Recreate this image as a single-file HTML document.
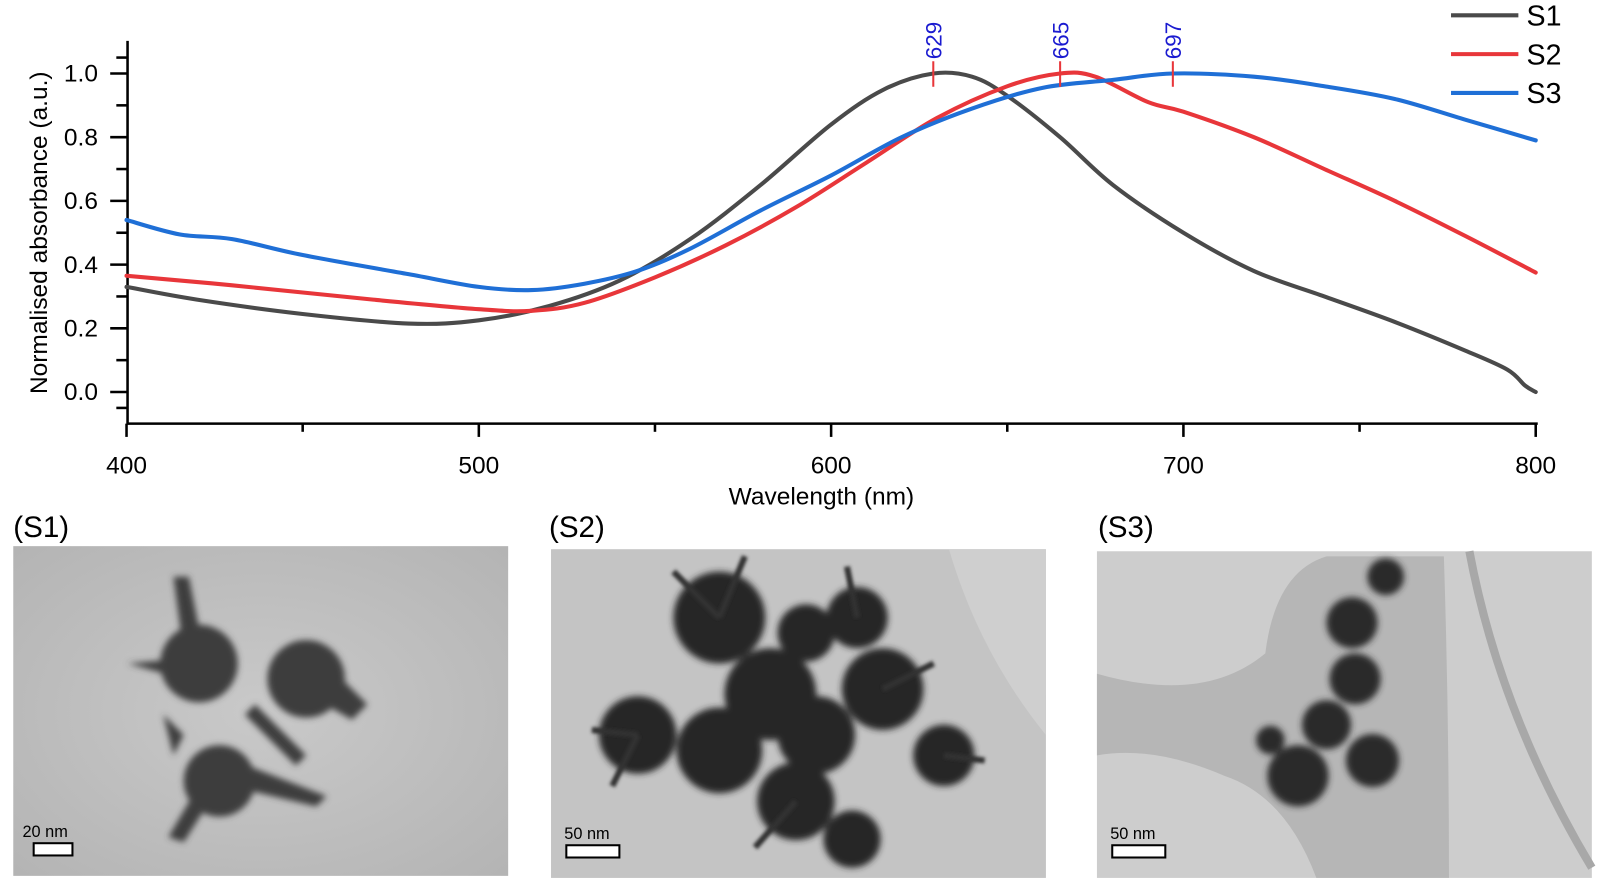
<!DOCTYPE html>
<html><head><meta charset="utf-8"><style>
body{margin:0;background:#fff;width:1600px;height:882px;overflow:hidden;font-family:"Liberation Sans",Arial,sans-serif}
</style></head><body>
<svg id="s" width="1600" height="882" viewBox="0 0 1568 864" preserveAspectRatio="none" xmlns="http://www.w3.org/2000/svg" font-family="Liberation Sans, Arial, sans-serif">
<defs>
<filter id="b1"><feGaussianBlur stdDeviation="3"/></filter>
<filter id="b2"><feGaussianBlur stdDeviation="1.5"/></filter>
<radialGradient id="g1" cx="0.5" cy="0.5" r="0.7"><stop offset="0" stop-color="#c9c9c9"/><stop offset="1" stop-color="#b4b4b4"/></radialGradient>
</defs>
<g id="axes" stroke="#000" stroke-width="2.5" fill="none">
<line x1="125" y1="40" x2="125" y2="416"/>
<line x1="124" y1="415" x2="1507" y2="415"/>
</g>
<g id="ticks" stroke="#000" stroke-width="2.5"></g>
<g font-size="24" fill="#000" id="labels"></g>
<text x="46" y="228" font-size="24" transform="rotate(-90 46 228)" text-anchor="middle">Normalised absorbance (a.u.)</text>
<text x="805" y="494" font-size="24" text-anchor="middle">Wavelength (nm)</text>
<g id="curves" fill="none" stroke-width="4" stroke-linejoin="round" stroke-linecap="round"></g>
<g id="peaks"></g>
<g stroke-width="4">
<line x1="1422" y1="15" x2="1488" y2="15" stroke="#4a4a4a"/>
<line x1="1422" y1="53" x2="1488" y2="53" stroke="#e8363a"/>
<line x1="1422" y1="91" x2="1488" y2="91" stroke="#1f6fd6"/>
</g>
<g font-size="28" fill="#000"><text x="1496" y="25">S1</text><text x="1496" y="63">S2</text><text x="1496" y="101">S3</text></g>

<g font-size="29" fill="#000"><text x="13" y="526">(S1)</text><text x="538" y="526">(S2)</text><text x="1076" y="526">(S3)</text></g>
<!-- TEM 1 -->
<rect x="13" y="535" width="485" height="323" fill="url(#g1)"/>
<g fill="#3e3e3e" filter="url(#b1)">
<circle cx="195" cy="650" r="38"/><circle cx="300" cy="665" r="38"/><circle cx="215" cy="765" r="35"/>
<polygon points="170,565 185,565 200,640 180,640"/><polygon points="125,650 180,645 180,665"/>
<polygon points="230,745 320,780 310,790 225,770"/><polygon points="165,820 200,760 215,770 180,825"/>
<polygon points="320,650 360,690 345,705 300,680"/><polygon points="250,690 300,740 290,750 240,700"/>
<polygon points="160,700 180,720 170,740"/>
</g>
<rect x="33" y="826" width="38" height="12" fill="#fff" stroke="#000" stroke-width="2"/>
<text x="22" y="820" font-size="16" fill="#000">20 nm</text>
<!-- TEM 2 -->
<rect x="540" y="538" width="485" height="322" fill="#c4c4c4"/>
<path d="M930 538 Q960 640 1025 720 L1025 538 Z" fill="#cfcfcf"/>
<g fill="#262626" filter="url(#b1)">
<circle cx="705" cy="605" r="45"/><circle cx="790" cy="620" r="28"/><circle cx="840" cy="605" r="30"/>
<circle cx="755" cy="680" r="45"/><circle cx="865" cy="675" r="40"/><circle cx="625" cy="720" r="38"/>
<circle cx="705" cy="735" r="42"/><circle cx="800" cy="720" r="38"/><circle cx="780" cy="785" r="38"/>
<circle cx="835" cy="822" r="28"/><circle cx="925" cy="740" r="30"/>
</g>
<g stroke="#333" stroke-width="6" filter="url(#b2)">
<line x1="705" y1="605" x2="660" y2="560"/><line x1="705" y1="605" x2="730" y2="545"/><line x1="625" y1="720" x2="580" y2="715"/>
<line x1="625" y1="720" x2="600" y2="770"/><line x1="865" y1="675" x2="915" y2="650"/><line x1="780" y1="785" x2="740" y2="830"/>
<line x1="840" y1="605" x2="830" y2="555"/><line x1="925" y1="740" x2="965" y2="745"/>
</g>
<rect x="555" y="828" width="52" height="12" fill="#fff" stroke="#000" stroke-width="2"/>
<text x="553" y="822" font-size="16" fill="#000">50 nm</text>
<!-- TEM 3 -->
<rect x="1075" y="540" width="485" height="320" fill="#cdcdcd"/>
<path d="M1075 660 Q1180 690 1240 640 Q1250 560 1300 545 L1415 545 Q1420 700 1420 860 L1290 860 Q1260 780 1200 760 Q1130 730 1075 740 Z" fill="#b6b6b6"/>
<path d="M1440 540 Q1470 700 1560 850" stroke="#a8a8a8" stroke-width="8" fill="none"/>
<g fill="#2a2a2a" filter="url(#b1)">
<circle cx="1358" cy="565" r="18"/><circle cx="1325" cy="610" r="25"/><circle cx="1328" cy="665" r="25"/>
<circle cx="1300" cy="710" r="24"/><circle cx="1272" cy="760" r="30"/><circle cx="1345" cy="745" r="26"/><circle cx="1245" cy="725" r="14"/>
</g>
<rect x="1090" y="828" width="52" height="12" fill="#fff" stroke="#000" stroke-width="2"/>
<text x="1088" y="822" font-size="16" fill="#000">50 nm</text>
</svg>
<script>
const NS="http://www.w3.org/2000/svg";
const X=n=>124+(n-400)*3.4525, Y=v=>384-v*312;
function el(t,a,p){const e=document.createElementNS(NS,t);for(const k in a)e.setAttribute(k,a[k]);(p||document.getElementById('s')).appendChild(e);return e;}
const tk=document.getElementById('ticks'),lb=document.getElementById('labels');
for(let i=0;i<=10;i++){const y=Y(i/10);el('line',{x1:i%2?114:108,y1:y,x2:125,y2:y},tk);
 if(i%2==0){const t=el('text',{x:96,y:y+8,'text-anchor':'end'},lb);t.textContent=(i/10).toFixed(1);}}
el('line',{x1:114,y1:Y(-0.05),x2:125,y2:Y(-0.05)},tk);el('line',{x1:114,y1:Y(1.05),x2:125,y2:Y(1.05)},tk);
for(let n=400;n<=800;n+=50){const x=X(n);el('line',{x1:x,y1:415,x2:x,y2:n%100?423:428},tk);
 if(n%100==0){const t=el('text',{x:x,y:464,'text-anchor':'middle'},lb);t.textContent=n;}}
const data={
"#4a4a4a":[[400,.33],[420,.29],[450,.245],[480,.215],[500,.225],[520,.27],[540,.35],[560,.48],[580,.65],[600,.84],[615,.95],[629,1.0],[640,.99],[650,.93],[665,.80],[680,.65],[700,.50],[720,.38],[740,.30],[760,.22],[780,.13],[792,.07],[797,.02],[800,0]],
"#e8363a":[[400,.365],[430,.335],[470,.29],[500,.26],[515,.255],[530,.28],[550,.36],[570,.46],[590,.58],[610,.72],[630,.86],[650,.96],[665,1.0],[675,.99],[690,.91],[700,.88],[720,.80],[740,.70],[760,.60],[780,.49],[800,.375]],
"#1f6fd6":[[400,.54],[415,.495],[430,.48],[450,.43],[480,.37],[500,.33],[515,.32],[530,.34],[545,.38],[560,.45],[580,.57],[600,.68],[620,.80],[640,.89],[660,.955],[680,.98],[697,1.0],[720,.99],[740,.96],[760,.92],[780,.855],[800,.79]]};
const cg=document.getElementById('curves');
for(const c in data){const p=data[c].map(d=>[X(d[0]),Y(d[1])]);let s=`M${p[0][0]},${p[0][1]}`;
 for(let i=0;i<p.length-1;i++){const p0=p[i-1]||p[i],p1=p[i],p2=p[i+1],p3=p[i+2]||p2;
  s+=` C${p1[0]+(p2[0]-p0[0])/6},${p1[1]+(p2[1]-p0[1])/6} ${p2[0]-(p3[0]-p1[0])/6},${p2[1]-(p3[1]-p1[1])/6} ${p2[0]},${p2[1]}`;}
 el('path',{d:s,stroke:c},cg);}
const pg=document.getElementById('peaks');
[629,665,697].forEach(n=>{const x=X(n);el('line',{x1:x,y1:60,x2:x,y2:85,stroke:'#e8363a','stroke-width':2},pg);
 const t=el('text',{x:x+8,y:58,'font-size':22,fill:'#1a1ad0',transform:`rotate(-90 ${x+8} 58)`},pg);t.textContent=n;});
</script>
</body></html>
